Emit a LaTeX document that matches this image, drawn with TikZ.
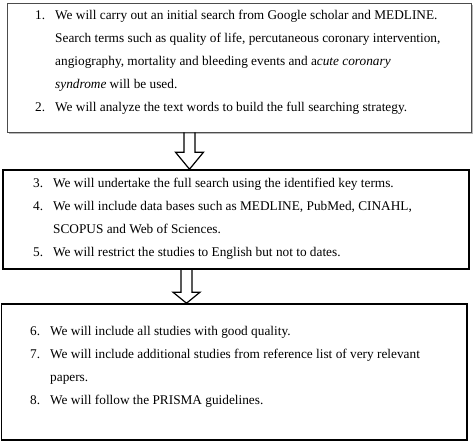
\documentclass[tikz,border=0pt]{standalone}
\usepackage{fontspec}
\setmainfont{Liberation Serif}
\usepackage{tikz}
\usetikzlibrary{calc}

\begin{document}
\begin{tikzpicture}[x=1pt, y=-1pt,
        box/.style={draw, line width=1.6pt, inner sep=0pt},
        num/.style={anchor=base west, inner sep=0pt, font=\fontsize{13.3}{23}\selectfont},
        itemtxt/.style={anchor=base west, inner sep=0pt, align=left, font=\fontsize{13.3}{23}\selectfont},
        hollow/.style={draw, line width=1.2pt, line join=miter}]
        % Page frame
        \useasboundingbox (0,0) rectangle (474,442);

        % The three boxes
        \node[box, draw=black!70, line width=0.8pt, minimum width=464pt, minimum height=129pt] (b1) at (239,67.5) {};
        \draw[gray!55, line width=1.2pt] ($(b1.north east)+(1.3,2)$) |- ($(b1.south west)+(2,1.3)$);
        \node[box, minimum width=466pt, minimum height=99pt] (b2) at (236,219.5) {};
        \node[box, minimum width=465.5pt, minimum height=136pt] (b3) at (234.25,372) {};

        % First box: items 1 and 2 (multi-line texts sit on their last baseline)
        \node[num] (n1) at (35,19) {1.};
        \node[itemtxt] (t1) at (55,88) {We will carry out an initial search from Google scholar and MEDLINE.\\
            Search terms such as quality of life, percutaneous coronary intervention,\\
            angiography, mortality and bleeding events and a\textit{cute coronary}\\
            \textit{syndrome} will be used.};
        \node[num] (n2) at (35,111) {2.};
        \node[itemtxt] (t2) at (55,111) {We will analyze the text words to build the full searching strategy.};

        % Second box: items 3 to 5
        \node[num] (n3) at (33,187) {3.};
        \node[itemtxt] (t3) at (53,187) {We will undertake the full search using the identified key terms.};
        \node[num] (n4) at (33,210) {4.};
        \node[itemtxt] (t4) at (53,233) {We will include data bases such as MEDLINE, PubMed, CINAHL,\\
            SCOPUS and Web of Sciences.};
        \node[num] (n5) at (33,256) {5.};
        \node[itemtxt] (t5) at (53,256) {We will restrict the studies to English but not to dates.};

        % Third box: items 6 to 8
        \node[num] (n6) at (30,335) {6.};
        \node[itemtxt] (t6) at (50,335) {We will include all studies with good quality.};
        \node[num] (n7) at (30,358) {7.};
        \node[itemtxt] (t7) at (50,381) {We will include additional studies from reference list of very relevant\\
            papers.};
        \node[num] (n8) at (30,404) {8.};
        \node[itemtxt] (t8) at (50,404) {We will follow the PRISMA guidelines.};

        % Hollow arrows between the boxes
        \coordinate (tip1) at (189.5,0);
        \coordinate (tip2) at (186.5,0);
        \draw[hollow] ($(b1.south -| tip1)+(-5.5,0)$) |- ($(b2.north -| tip1)+(-14,-17)$)
            -- (b2.north -| tip1) -- ($(b2.north -| tip1)+(14,-17)$) -| ($(b1.south -| tip1)+(5.5,0)$);
        \draw[hollow] ($(b2.south -| tip2)+(-5.5,0)$) |- ($(b3.north -| tip2)+(-13.5,-11)$)
            -- (b3.north -| tip2) -- ($(b3.north -| tip2)+(13.5,-11)$) -| ($(b2.south -| tip2)+(5.5,0)$);
    \end{tikzpicture}
\end{document}
